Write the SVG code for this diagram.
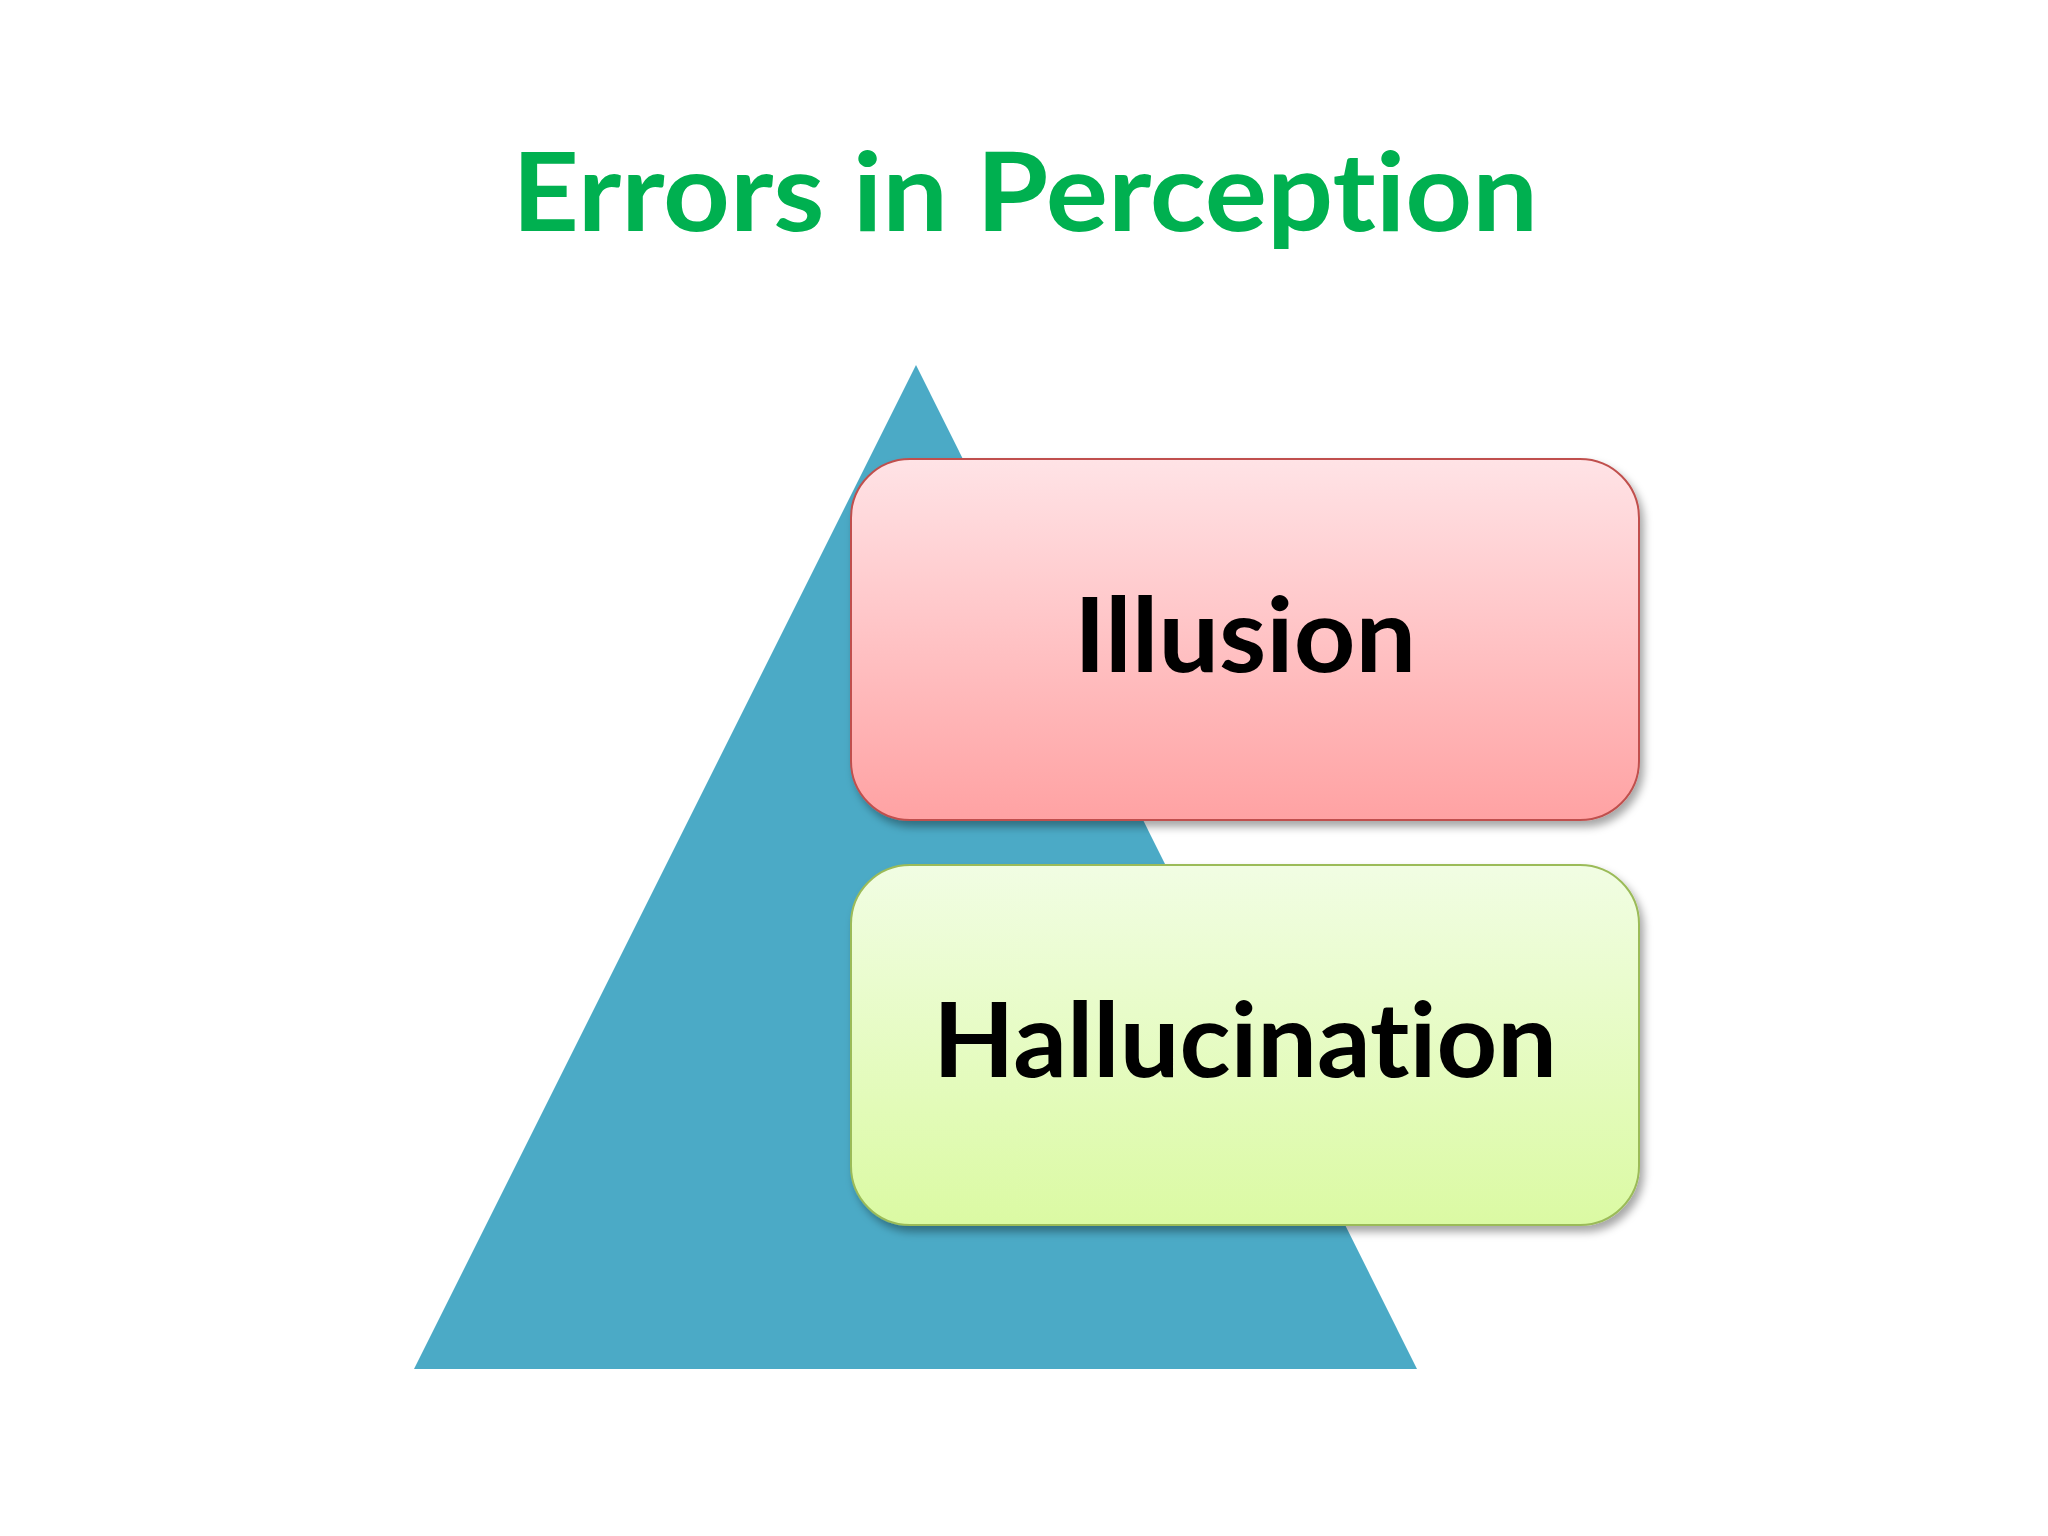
<svg xmlns="http://www.w3.org/2000/svg" width="2048" height="1536" viewBox="0 0 2048 1536">
<defs>
<linearGradient id="gPink" x1="0" y1="0" x2="0" y2="1">
<stop offset="0" stop-color="#FFE3E6"/>
<stop offset="1" stop-color="#FFA2A3"/>
</linearGradient>
<linearGradient id="gGreen" x1="0" y1="0" x2="0" y2="1">
<stop offset="0" stop-color="#F1FDE3"/>
<stop offset="1" stop-color="#DBFAA3"/>
</linearGradient>
<filter id="shadow" x="-5%" y="-5%" width="115%" height="120%">
<feDropShadow dx="4" dy="6" stdDeviation="4" flood-color="#000" flood-opacity="0.35"/>
</filter>
<style>
.title{font-family:Lato,"Open Sans","Liberation Sans",sans-serif;font-weight:bold;font-size:109px;fill:#00B050;font-variant-ligatures:none;font-feature-settings:"liga" 0,"dlig" 0}
.lbl{font-family:Lato,"Open Sans","Liberation Sans",sans-serif;font-weight:bold;font-size:103px;fill:#000;font-variant-ligatures:none;font-feature-settings:"liga" 0,"dlig" 0}
</style>
</defs>
<rect width="2048" height="1536" fill="#FFFFFF"/>
<text class="title" x="1025" y="231" text-anchor="middle" textLength="1026" lengthAdjust="spacingAndGlyphs">Errors in Perception</text>
<g id="pyramid">
<polygon points="916,365 1417,1369 414,1369" fill="#4BAAC6"/>
</g>
<g id="connectors"></g>
<g id="illusion">
<rect x="851" y="459" width="788" height="361" rx="59" ry="59" fill="url(#gPink)" stroke="#C0504D" stroke-width="2" filter="url(#shadow)"/>
<text class="lbl" x="1245" y="672" text-anchor="middle" textLength="342" lengthAdjust="spacingAndGlyphs">Illusion</text>
</g>
<g id="hallucination">
<rect x="851" y="865" width="788" height="360" rx="59" ry="59" fill="url(#gGreen)" stroke="#9BBB59" stroke-width="2" filter="url(#shadow)"/>
<text class="lbl" x="1245" y="1077" text-anchor="middle" textLength="624" lengthAdjust="spacingAndGlyphs">Hallucination</text>
</g>
</svg>
